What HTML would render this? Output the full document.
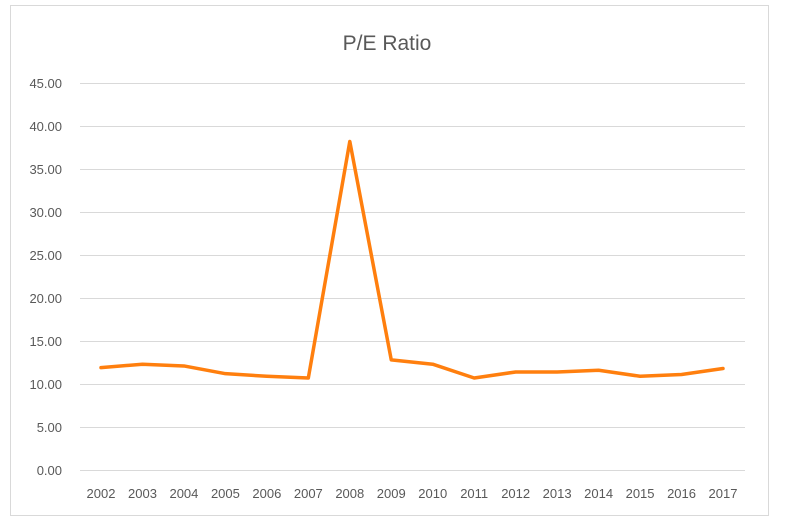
<!DOCTYPE html>
<html><head><meta charset="utf-8"><style>
body{margin:0;background:#fff;width:790px;height:523px;overflow:hidden;font-family:"Liberation Sans",sans-serif}
</style></head><body>
<svg id="chart" width="790" height="523" xmlns="http://www.w3.org/2000/svg">
<rect x="10.5" y="5.5" width="758" height="510" fill="#fff" stroke="#d9d9d9"/>
<text x="387" y="50" text-anchor="middle" font-size="21" fill="#595959">P/E Ratio</text>
<g id="grid"></g><g id="yt"></g><g id="xt"></g><g id="series"></g>
</svg>
<script>
const categories=["2002","2003","2004","2005","2006","2007","2008","2009","2010","2011","2012","2013","2014","2015","2016","2017"];
const peValues=[11.9,12.3,12.1,11.2,10.9,10.7,38.2,12.8,12.3,10.7,11.4,11.4,11.6,10.9,11.1,11.8];
const yTicks=[0,5,10,15,20,25,30,35,40,45];
const NS="http://www.w3.org/2000/svg";
const x=i=>101+i*(723-101)/(categories.length-1);
const y=v=>470-v*(470-83)/45;
function mk(t,a,p){const e=document.createElementNS(NS,t);for(const k in a)e.setAttribute(k,a[k]);p.appendChild(e);return e;}
const grid=document.getElementById('grid'),yt=document.getElementById('yt'),xt=document.getElementById('xt'),ser=document.getElementById('series');
yTicks.forEach(v=>{
 const l=mk('line',{x1:80,x2:745,y1:y(v)+0.5,y2:y(v)+0.5,stroke:'#d9d9d9','stroke-width':1},grid);
 
 
 const t=mk('text',{x:62,y:y(v)+5,'text-anchor':'end','font-size':13,fill:'#595959'},yt);
 t.textContent=v.toFixed(2);
 
 
});
categories.forEach((c,i)=>{
 const t=mk('text',{x:x(i),y:498,'text-anchor':'middle','font-size':13,fill:'#595959'},xt);
 t.textContent=c;
 
 
});
const pl=mk('polyline',{points:peValues.map((v,i)=>x(i)+','+y(v)).join(' '),fill:'none',stroke:'#ff7f0e','stroke-width':3.5,'stroke-linejoin':'round','stroke-linecap':'round'},ser);


</script>
</body></html>
